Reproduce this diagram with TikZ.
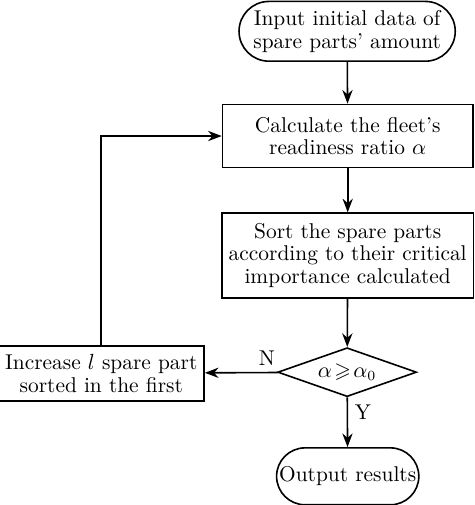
\documentclass[tikz,border=0pt]{standalone}
\usepackage{amssymb}
\usetikzlibrary{shapes.misc,shapes.geometric,arrows.meta}
\begin{document}
\begin{tikzpicture}[font=\fontsize{10.7pt}{11.4pt}\selectfont]
% Estilos
\tikzstyle{terminal} = [rounded rectangle, draw, thick, minimum height=1.05cm, align=center, inner sep=2pt]
\tikzstyle{process} = [rectangle, draw, thick, minimum width=4.40cm, align=center]
\tikzstyle{decision} = [diamond, draw, thick, aspect=2.8, inner sep=0pt, minimum width=2.44cm, minimum height=0.86cm]
\tikzstyle{arrow} = [thick, -{Stealth[length=2.4mm]}]

\useasboundingbox (0,0) rectangle (8.33,-8.874);

% Flowchart nodes
\node[terminal, minimum width=3.94cm] (input) at (6.10,-0.55) {Input initial data of\\spare parts' amount};
\node[process, minimum height=1.11cm] (ratio) at (6.11,-2.39) {Calculate the fleet's\\readiness ratio $\alpha$};
\node[process, minimum height=1.49cm] (sort) at (6.11,-4.49) {Sort the spare parts\\according to their critical\\importance calculated};
\node[decision] (check) at (6.10,-6.54) {$\alpha\!\geqslant\!\alpha_0$};
\node[process, minimum width=3.53cm, minimum height=0.97cm] (increase) at (1.78,-6.56) {Increase $l$ spare part\\sorted in the first};
\node[terminal, minimum width=2.64cm, minimum height=1.0cm] (output) at (6.11,-8.37) {Output results};

% Connections
\draw[arrow] (input) -- (ratio);
\draw[arrow] (ratio) -- (sort);
\draw[arrow] (sort) -- (check);
\draw[arrow] (check) -- node[pos=0.15, above] {N} (increase);
\draw[arrow] (check) -- node[pos=0.3, right] {Y} (output);
\draw[arrow] (increase.north) |- (ratio.west);
\end{tikzpicture}
\end{document}
